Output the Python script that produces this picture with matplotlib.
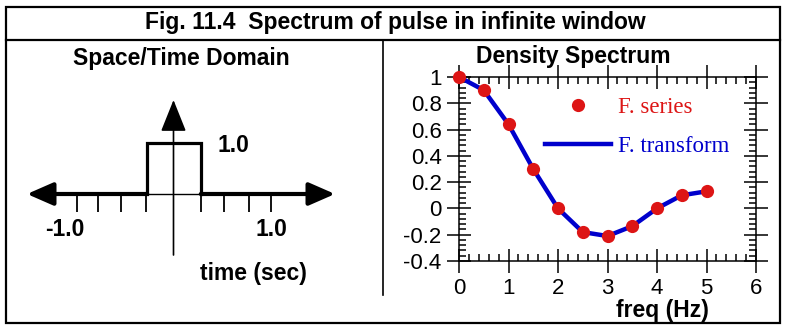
import matplotlib
matplotlib.use("Agg")
import matplotlib.pyplot as plt
from matplotlib.ticker import MultipleLocator, AutoMinorLocator, FuncFormatter

plt.rcParams['font.family'] = ['Liberation Sans', 'DejaVu Sans']
plt.rcParams['axes.unicode_minus'] = False

# time domain pulse
pulse_edges = [-0.27, 0.28]
pulse_height = 1.0
time_ticks = [-0.99, -0.77, -0.54, -0.28, 0.28, 0.52, 0.77, 1.0]

# density spectrum
freq = [0, 0.5, 1, 1.5, 2, 2.5, 3, 3.5, 4, 4.5, 5]
spectrum = [1.0, 0.9, 0.64, 0.3, 0.0, -0.18, -0.21, -0.135, 0.0, 0.1, 0.13]

W, H = 793, 336
fig = plt.figure(figsize=(W / 100, H / 100), dpi=100)

# frame + titles, in pixel units
bg = fig.add_axes([0, 0, 1, 1])
bg.set_xlim(0, W)
bg.set_ylim(H, 0)
bg.axis("off")
bg.add_patch(plt.Rectangle((6, 7), 774, 316, fill=False, lw=1.6, ec="black"))
bg.plot([6, 780], [40, 40], color="black", lw=1.6)
bg.plot([383, 383], [40, 295], color="black", lw=1.2)
bold = dict(ha="center", va="center", fontsize=16.5, fontweight="bold")
bg.text(395, 22, "Fig. 11.4  Spectrum of pulse in infinite window", **bold)
bg.text(181, 59, "Space/Time Domain", **bold)
bg.text(573, 57, "Density Spectrum", **bold)
bg.text(662, 311, "freq (Hz)", **bold)

# left panel: pulse sketch
t0, ts = 173.5, 97.5
a0, as_ = 194, 51
bl = fig.add_axes([7 / W, 1 - 322 / H, 376 / W, 281 / H])
bl.set_xlim((7 - t0) / ts, (383 - t0) / ts)
bl.set_ylim((a0 - 322) / as_, (a0 - 41) / as_)
bl.axis("off")

bl.plot(pulse_edges, [0, 0], color="black", lw=1)
e0, e1 = pulse_edges
bl.plot([e0, e0, e1, e1], [0, pulse_height, pulse_height, 0], color="black",
        lw=2.3, solid_joinstyle="miter")
arr_thick = dict(arrowstyle="-|>,head_length=1.6,head_width=0.7", mutation_scale=10,
                 lw=3, color="black", shrinkA=0, shrinkB=0)
bl.annotate("", xy=((27 - t0) / ts, 0), xytext=(e0, 0), arrowprops=arr_thick)
bl.annotate("", xy=((335 - t0) / ts, 0), xytext=(e1, 0), arrowprops=arr_thick)
arr_thin = dict(arrowstyle="-|>,head_length=2.0,head_width=0.8", mutation_scale=10,
                lw=1.2, color="black", shrinkA=0, shrinkB=0)
bl.annotate("", xy=(0, (a0 - 100) / as_), xytext=(0, (a0 - 255) / as_), arrowprops=arr_thin)
bl.vlines(time_ticks, -0.36, 0, color="black", lw=1.3)

bl.text(-1.11, -0.69, "-1.0", **bold)
bl.text(1.0, -0.69, "1.0", **bold)
bl.text(0.61, 0.96, "1.0", **bold)
bl.text(0.82, -1.55, "time (sec)", **bold)

# right panel: spectrum
ax = fig.add_axes([459 / W, 1 - 261 / H, 297 / W, 184 / H])
ln, = ax.plot(freq, spectrum, color="#0000cc", lw=3.2, label="F. transform", clip_on=False, zorder=3)
pts, = ax.plot(freq, spectrum, "o", color="#dd1515", ms=9.5, mec="none", label="F. series",
               clip_on=False, zorder=4)
ax.set_xlim(0, 6)
ax.set_ylim(-0.4, 1.0)
ax.xaxis.set_major_locator(MultipleLocator(1))
ax.yaxis.set_major_locator(MultipleLocator(0.2))
ax.xaxis.set_minor_locator(AutoMinorLocator(5))
ax.yaxis.set_minor_locator(AutoMinorLocator(5))
ax.yaxis.set_major_formatter(FuncFormatter(lambda v, p: f"{round(v, 2) + 0:g}"))
ax.tick_params(which="major", direction="inout", length=17, width=1.1, top=True, right=True,
               labelsize=16, pad=4)
ax.tick_params(which="minor", direction="in", length=5, width=1.1, top=True, right=True)
for s in ax.spines.values():
    s.set_linewidth(1.1)

leg = ax.legend(handles=[pts, ln], loc="upper left",
                bbox_to_anchor=((545 - 459) / 297, (261 - 97) / 184),
                frameon=False, numpoints=1, borderpad=0, borderaxespad=0,
                handlelength=2.9, handletextpad=0.27, labelspacing=0.8,
                prop=dict(family=["Liberation Serif"], size=16.5))
for t, c in zip(leg.get_texts(), ["#dd1515", "#0000cc"]):
    t.set_color(c)

fig.savefig("out.png", dpi=100)
